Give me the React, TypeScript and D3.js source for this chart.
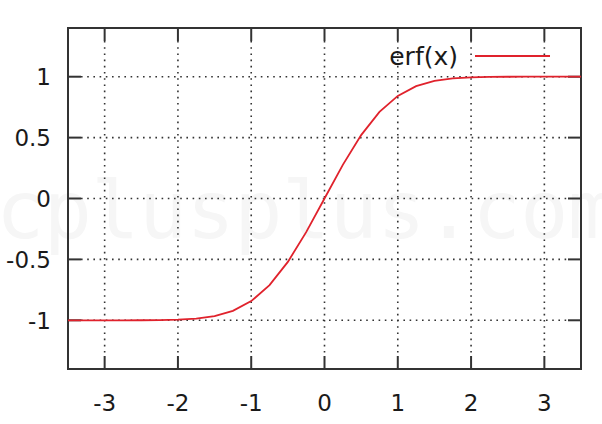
import React from "react";
import * as d3 from "d3";

const xs = [-3.5, -3.25, -3, -2.75, -2.5, -2.25, -2, -1.75, -1.5, -1.25, -1, -0.75, -0.5, -0.25, 0, 0.25, 0.5, 0.75, 1, 1.25, 1.5, 1.75, 2, 2.25, 2.5, 2.75, 3, 3.25, 3.5];
const ys = [-1, -1, -1, -1, -0.9996, -0.9985, -0.9953, -0.9867, -0.9661, -0.9229, -0.8427, -0.7112, -0.5205, -0.2763, 0, 0.2763, 0.5205, 0.7112, 0.8427, 0.9229, 0.9661, 0.9867, 0.9953, 0.9985, 0.9996, 1, 1, 1, 1];
const xTicks = [-3, -2, -1, 0, 1, 2, 3];
const yTicks = [-1, -0.5, 0, 0.5, 1];
const seriesName = "erf(x)";

export default function App() {
  const W = 602, H = 424;
  const L = 68, R = 581, T = 28, B = 369;
  const x = d3.scaleLinear().domain([-3.5, 3.5]).range([L, R]);
  const y = d3.scaleLinear().domain([-1.4, 1.4]).range([B, T]);
  const pts = xs.map((v, i) => [v, ys[i]] as [number, number]);
  const line = d3.line<[number, number]>().x(d => x(d[0])).y(d => y(d[1]));
  const font = "'DejaVu Sans', Verdana, sans-serif";
  const gridStyle = { stroke: "#333", strokeWidth: 1.6, strokeDasharray: "1.6 4.6" };
  const tickLen = 13;
  return (
    <svg width={W} height={H} style={{ position: "absolute", left: 0, top: 0, background: "#fff" }}>
      <rect x={0} y={0} width={W} height={H} fill="#fff" />
      <text x={-4} y={238} fontFamily="'DejaVu Sans Mono', monospace" fontSize={80} fill="#f6f6f6" textLength={620} lengthAdjust="spacing">cplusplus.com</text>
      {xTicks.map(t => (
        <line key={"gx" + t} x1={x(t)} x2={x(t)} y1={T + tickLen} y2={B - tickLen} {...gridStyle} />
      ))}
      {yTicks.map(t => (
        <line key={"gy" + t} x1={L + tickLen} x2={R - tickLen} y1={y(t)} y2={y(t)} {...gridStyle} />
      ))}
      {xTicks.map(t => (
        <g key={"tx" + t}>
          <line x1={x(t)} x2={x(t)} y1={B} y2={B - tickLen} stroke="#333" strokeWidth={2} />
          <line x1={x(t)} x2={x(t)} y1={T} y2={T + tickLen} stroke="#333" strokeWidth={2} />
          <text x={x(t)} y={411} textAnchor="middle" fontFamily={font} fontSize={23} fill="#1a1a1a">{t}</text>
        </g>
      ))}
      {yTicks.map(t => (
        <g key={"ty" + t}>
          <line x1={L} x2={L + tickLen} y1={y(t)} y2={y(t)} stroke="#333" strokeWidth={2} />
          <line x1={R} x2={R - tickLen} y1={y(t)} y2={y(t)} stroke="#333" strokeWidth={2} />
          <text x={51} y={y(t)} dy="0.36em" textAnchor="end" fontFamily={font} fontSize={23} fill="#1a1a1a">{t}</text>
        </g>
      ))}
      <rect x={L} y={T} width={R - L} height={B - T} fill="none" stroke="#333" strokeWidth={2} />
      <path d={line(pts) || ""} fill="none" stroke="#e0222c" strokeWidth={1.8} />
      <text x={458} y={56} dy="0.36em" textAnchor="end" fontFamily={font} fontSize={25} fill="#1a1a1a">{seriesName}</text>
      <line x1={475} x2={550} y1={56} y2={56} stroke="#e0222c" strokeWidth={1.8} />
    </svg>
  );
}
